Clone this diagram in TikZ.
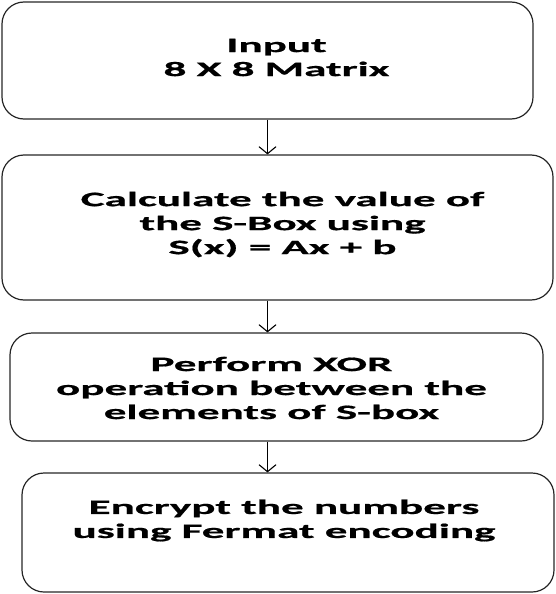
\documentclass[tikz,border=0pt]{standalone}
\usepackage{fontspec}
\usetikzlibrary{arrows.meta}
\newfontfamily\stepfont{Carlito}[FakeStretch=2.2,FakeBold=0.8]

\begin{document}
\begin{tikzpicture}[x=1pt,y=-1pt,
  stepbox/.style={draw=black!85,line width=1.2pt,rounded corners=22pt,inner sep=0pt},
  steptext/.style={align=center,inner sep=0pt,
    font=\stepfont\bfseries\fontsize{20.5}{24}\selectfont},
  flow/.style={line width=1.1pt,-{Straight Barb[length=7pt,width=17pt]}}]
\useasboundingbox (0,0) rectangle (556,594);

\node[stepbox,minimum width=531pt,minimum height=117pt,
  label={[steptext,shift={(9,-3)}]center:{Input\\8 X 8 Matrix}}] (input) at (267.5,60.5) {};
\node[stepbox,minimum width=551pt,minimum height=145pt,
  label={[steptext,shift={(5,-3)}]center:{Calculate the value of\\the S-Box using\\S(x) = Ax + b}}] (sbox) at (277.5,227.5) {};
\node[stepbox,minimum width=533pt,minimum height=108pt,
  label={[steptext,shift={(-5,1)}]center:{Perform XOR\\operation between the\\elements of S-box}}] (xor) at (276.5,387) {};
\node[stepbox,minimum width=532pt,minimum height=119pt,
  label={[steptext,shift={(-4,-12)}]center:{Encrypt the numbers\\using Fermat encoding}}] (encrypt) at (288,532.5) {};

\draw[flow] (input.south) -- (input.south |- sbox.north);
\draw[flow] (input.south |- sbox.south) -- (input.south |- xor.north);
\draw[flow] (input.south |- xor.south) -- (input.south |- encrypt.north);
\end{tikzpicture}
\end{document}
